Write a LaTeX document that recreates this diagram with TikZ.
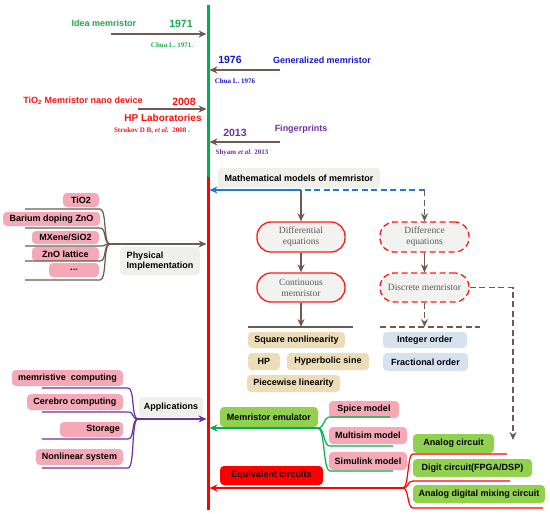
\documentclass[tikz,border=0pt]{standalone}
\usepackage{fontspec}
\setmainfont{Liberation Sans}
\newfontfamily\serif{Liberation Serif}
\usetikzlibrary{arrows.meta}
\definecolor{gtext}{HTML}{1AAB4B}
\definecolor{tgreen}{HTML}{00B050}
\definecolor{bluec}{HTML}{1515D0}
\definecolor{redc}{HTML}{FF1010}
\definecolor{purp}{HTML}{7030A0}
\definecolor{brownc}{HTML}{6E5A52}
\definecolor{barrow}{HTML}{1E7BD0}
\definecolor{pinkc}{HTML}{F5A8B5}
\definecolor{tanc}{HTML}{ECDCB8}
\definecolor{lbluec}{HTML}{D6E2ED}
\definecolor{greenb}{HTML}{92D050}
\definecolor{grayb}{HTML}{EFEFEB}
\definecolor{eqfill}{HTML}{F2F2F0}
\definecolor{eqtext}{HTML}{5A5A5A}
\definecolor{eqred}{HTML}{FF1A1A}
\tikzset{
  lab/.style={font=\bfseries\fontsize{9}{10}\selectfont, inner sep=0pt},
  yr/.style={font=\bfseries\fontsize{10.5}{12}\selectfont, inner sep=0pt},
  cite/.style={font=\serif\bfseries\fontsize{7}{8}\selectfont, inner sep=0pt},
  box/.style={rounded corners=4pt, inner sep=0pt, font=\bfseries\fontsize{9}{10}\selectfont, text=black},
  pinkb/.style={box, fill=pinkc},
  tanb/.style={box, fill=tanc},
  lblueb/.style={box, fill=lbluec},
  greenbx/.style={box, fill=greenb},
  grayx/.style={box, fill=grayb},
  eqn/.style={rounded corners=14pt, draw=eqred, line width=1.3pt, fill=eqfill, inner sep=0pt,
    font=\serif\fontsize{9.5}{11}\selectfont, text=eqtext, align=center},
  eqd/.style={eqn, dash pattern=on 6pt off 3.5pt},
  arr/.style={draw=brownc, line width=1.4pt, -{Stealth[length=8pt,width=7pt]}},
  darr/.style={arr, dash pattern=on 6pt off 3.5pt},
  brl/.style={line width=1.2pt},
}
\begin{document}
\begin{tikzpicture}[x=1pt,y=-1pt]
\useasboundingbox (0,0) rectangle (550,514);
% timeline
\coordinate (ttop) at (208,5);
\coordinate (tmid) at (208,177);
\coordinate (tbot) at (208,510);
\draw[line width=3pt, tgreen] (ttop) -- (tmid);
\draw[line width=3pt, red] (tmid) -- (tbot);

% 1971
\node[lab, text=gtext] (idea) at (104,23) {Idea memristor};
\node[yr, text=gtext] (y71) at (181,24) {1971};
\node[cite, text=gtext] (c71) at (172,45) {Chua L. 1971.};
\coordinate (a71s) at (111,34); \coordinate (a71e) at (206.5,34);
\draw[arr] (a71s) -- (a71e);
% 1976
\node[yr, text=bluec] (y76) at (230,60) {1976};
\node[lab, text=bluec] (gen) at (322,60) {Generalized memristor};
\node[cite, text=bluec] (c76) at (235,81) {Chua L. 1976};
\coordinate (a76s) at (280,70); \coordinate (a76e) at (209.5,70);
\draw[arr] (a76s) -- (a76e);
% 2008
\node[lab, text=redc] (tio) at (83,101) {TiO\textsubscript{2} Memristor nano device};
\node[yr, text=redc] (y08) at (184,102) {2008};
\node[lab, font=\bfseries\fontsize{10}{12}\selectfont, text=redc] (hpl) at (163,118) {HP Laboratories};
\node[cite, text=redc] (c08) at (152,131) {Strukov D B, \textit{et al.}\ \ 2008 .};
\coordinate (a08s) at (138,109); \coordinate (a08e) at (206.5,109);
\draw[arr] (a08s) -- (a08e);
% 2013
\node[yr, text=purp] (y13) at (235,133) {2013};
\node[lab, text=purp] (fp) at (301,129) {Fingerprints};
\node[cite, text=purp] (c13) at (242,153) {Shyam \textit{et al.} 2013};
\coordinate (a13s) at (280,142); \coordinate (a13e) at (209.5,142);
\draw[arr] (a13s) -- (a13e);

% Mathematical models
\node[grayx, minimum width=162pt, minimum height=20pt] (math) at (299,178) {Mathematical models of memristor};
\coordinate (mjL) at (301,190);
\coordinate (mjR) at (424.5,190);
\coordinate (mEnd) at (209.5,190);
\draw[barrow, line width=1.4pt, -{Stealth[length=8pt,width=7pt]}] (mjL) -- (mEnd);
\draw[barrow, line width=1.4pt, dash pattern=on 6pt off 3.5pt] (mjR) -- (mjL);

\node[eqn, minimum width=88pt, minimum height=30pt] (diffeq) at (301,237) {Differential\\equations};
\node[eqd, minimum width=89pt, minimum height=30pt] (diffce) at (424.5,237) {Difference\\equations};
\node[eqn, minimum width=88pt, minimum height=29pt] (cont) at (301,287.5) {Continuous\\memristor};
\node[eqd, minimum width=89pt, minimum height=29pt] (disc) at (424.5,287.5) {Discrete memristor};

\draw[arr] (mjL) -- (diffeq.north);
\draw[darr] (mjR) -- (diffce.north);
\draw[arr] (diffeq.south) -- (cont.north);
\draw[arr] (diffce.south) -- (disc.north);

\coordinate (cL) at (248,327); \coordinate (cR) at (353,327); \coordinate (cM) at (301,327);
\coordinate (dL) at (380,327); \coordinate (dR) at (480,327); \coordinate (dM) at (424.5,327);
\draw[brownc, line width=1.3pt] (cL) -- (cR);
\draw[brownc, line width=1.3pt, dash pattern=on 6pt off 3.5pt] (dL) -- (dR);
\draw[arr] (cont.south) -- (cM);
\draw[darr] (disc.south) -- (dM);
\coordinate (dcorner) at (513,287.5);
\coordinate (dend) at (513,440);
\draw[darr] (disc.east) -- (dcorner) -- (dend);

% tan / blue boxes
\node[tanb, minimum width=97pt, minimum height=16pt] (sq) at (296.5,340) {Square nonlinearity};
\node[tanb, minimum width=32pt, minimum height=17pt] (hp) at (264,361.5) {HP};
\node[tanb, minimum width=82pt, minimum height=17pt] (hyp) at (328,361.5) {Hyperbolic sine};
\node[tanb, minimum width=93pt, minimum height=17pt] (pw) at (293.5,383.5) {Piecewise linearity};
\node[lblueb, minimum width=84pt, minimum height=16pt] (int) at (425,340) {Integer order};
\node[lblueb, minimum width=85pt, minimum height=18pt] (frac) at (425.5,362) {Fractional order};

% Physical implementation
\node[pinkb, minimum width=36pt, minimum height=14pt] (ptio) at (81,200) {TiO2};
\node[pinkb, minimum width=97pt, minimum height=14pt] (pbar) at (51.5,219) {Barium doping ZnO};
\node[pinkb, minimum width=67pt, minimum height=13pt] (pmx) at (65.5,237.5) {MXene/SiO2};
\node[pinkb, minimum width=67pt, minimum height=14pt] (pzno) at (65.5,254) {ZnO lattice};
\node[pinkb, minimum width=50pt, minimum height=14pt] (pdots) at (74,270) {...};
\node[grayx, minimum width=80pt, minimum height=28pt, align=left] (phys) at (160,261) {Physical\\Implementation};
\coordinate (pj) at (110,244);
\coordinate (pe) at (206.5,244);
\foreach \yy/\nm in {209/p1,228/p2,246/p3,261/p4,280/p5}{
  \coordinate (\nm s) at (25,\yy);
  \coordinate (\nm e) at (100,\yy);
  \draw[brownc, brl] (\nm s) -- (\nm e) .. controls (107,\yy) and (103,244) .. (pj);
}
\draw[arr] (pj) -- (pe);

% Applications
\node[pinkb, minimum width=111pt, minimum height=16pt] (amc) at (67.5,378) {memristive\ \ computing};
\node[pinkb, minimum width=96pt, minimum height=16pt] (acc) at (75,402) {Cerebro computing};
\node[pinkb, minimum width=63pt, minimum height=15pt, text width=57pt, align=right] (ast) at (91.5,429.5) {Storage};
\node[pinkb, minimum width=87pt, minimum height=16pt] (anl) at (79.5,457) {Nonlinear system};
\node[grayx, minimum width=64pt, minimum height=20pt] (apps) at (171,407) {Applications};
\coordinate (aj) at (138,419);
\coordinate (ae) at (206.5,419);
\foreach \yy/\nm in {388/q1,412/q2,439/q3,468/q4}{
  \coordinate (\nm s) at (42,\yy);
  \coordinate (\nm e) at (128,\yy);
  \draw[purp, brl] (\nm s) -- (\nm e) .. controls (135,\yy) and (131,419) .. (aj);
}
\draw[purp, line width=1.4pt, -{Stealth[length=8pt,width=7pt]}] (aj) -- (ae);

% Memristor emulator
\node[greenbx, minimum width=98pt, minimum height=20pt] (emu) at (269,417) {Memristor emulator};
\node[pinkb, minimum width=70pt, minimum height=17pt] (spice) at (364,409.5) {Spice model};
\node[pinkb, minimum width=78pt, minimum height=17pt] (multi) at (368,435.5) {Multisim model};
\node[pinkb, minimum width=78pt, minimum height=18pt] (simu) at (368,461) {Simulink model};
\coordinate (ej) at (318,428);
\coordinate (ee) at (209.5,428);
\foreach \yy/\xe/\nm in {417/390/g1,446/393/g2,471/393/g3}{
  \coordinate (\nm s) at (330,\yy);
  \coordinate (\nm e) at (\xe,\yy);
  \draw[tgreen, brl] (ej) .. controls (325,428) and (323,\yy) .. (\nm s) -- (\nm e);
}
\draw[tgreen, line width=1.4pt, -{Stealth[length=8pt,width=7pt]}] (ej) -- (ee);

% Equivalent circuits
\node[box, fill=red, minimum width=103pt, minimum height=19pt, text=black!85!red] (equiv) at (271.5,475.5) {Equivalent circuits};
\node[greenbx, minimum width=81pt, minimum height=19pt] (ana) at (453.5,443.5) {Analog circuit};
\node[greenbx, minimum width=119pt, minimum height=18pt] (dig) at (472.5,468) {Digit circuit(FPGA/DSP)};
\node[greenbx, minimum width=132pt, minimum height=18pt] (mix) at (479,494) {Analog digital mixing circuit};
\coordinate (rj) at (403,488);
\coordinate (re) at (209.5,488);
\foreach \yy/\xe/\nm in {454/507/r1,481/510/r2,508/543/r3}{
  \coordinate (\nm s) at (413,\yy);
  \coordinate (\nm e) at (\xe,\yy);
  \draw[red, brl] (rj) .. controls (409,488) and (407,\yy) .. (\nm s) -- (\nm e);
}
\draw[red, line width=1.4pt, -{Stealth[length=8pt,width=7pt]}] (rj) -- (re);
\end{tikzpicture}
\end{document}
